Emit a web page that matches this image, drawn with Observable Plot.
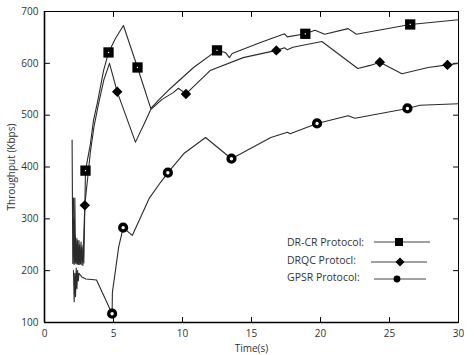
<!DOCTYPE html>
<html><head><meta charset="utf-8">
<script src="https://cdn.jsdelivr.net/npm/d3@7"></script>
<script src="https://cdn.jsdelivr.net/npm/@observablehq/plot@0.6"></script>
<style>
body{margin:0;background:#fff;}
#wrap{position:relative;width:474px;height:355px;}
#wrap svg{display:block;}
#legend{position:absolute;left:0;top:0;pointer-events:none;}
</style></head><body><div id="wrap"></div>
<script>
// ---- data ----
const xTicks = [0, 5, 10, 15, 20, 25, 30];
const yTicks = [100, 200, 300, 400, 500, 600, 700];

const drcrX = [2.0, 2.05, 2.1, 2.15, 2.2, 2.25, 2.35, 2.4, 2.5, 2.55, 2.65, 2.7, 2.8, 2.85, 2.97, 3.33, 3.55, 3.84, 4.28, 4.64, 5.14, 5.72, 6.74, 7.7, 8.3, 9.1, 10.8, 12.5, 13.1, 13.4, 13.6, 15.65, 17.4, 17.6, 18.9, 19.6, 20.3, 22.0, 22.6, 26.5, 30.0];
const drcrY = [452, 214, 300, 212, 340, 215, 262, 213, 258, 212, 255, 212, 250, 215, 393, 445, 490, 525, 586, 621, 648, 673, 592, 513, 530, 551, 592, 625, 621, 611, 619, 640, 657, 651, 657, 664, 656, 667, 656, 675, 684];
const drcrMarkX = [2.97, 4.64, 6.74, 12.5, 18.9, 26.5];
const drcrMarkY = [393, 621, 592, 625, 657, 675];

const drqcX = [2.1, 2.15, 2.25, 2.3, 2.4, 2.45, 2.55, 2.6, 2.7, 2.78, 2.92, 3.33, 3.6, 3.9, 4.3, 4.71, 5.27, 6.59, 7.2, 7.7, 8.5, 9.35, 9.7, 10.25, 12.0, 14.4, 16.8, 17.4, 17.6, 18.0, 20.1, 22.7, 23.6, 24.3, 25.9, 27.8, 29.2, 30.0];
const drqcY = [340, 215, 265, 213, 258, 212, 250, 213, 245, 210, 326, 430, 480, 520, 568, 600, 545, 448, 482, 511, 530, 544, 552, 541, 586, 611, 625, 630, 626, 631, 642, 590, 596, 602, 580, 592, 597, 600];
const drqcMarkX = [2.92, 5.27, 10.25, 16.8, 24.3, 29.2];
const drqcMarkY = [326, 545, 541, 625, 602, 597];

const gpsrX = [2.1, 2.15, 2.2, 2.25, 2.3, 2.35, 2.4, 2.45, 2.5, 2.7, 3.0, 3.4, 3.77, 4.9, 4.92, 5.14, 5.37, 5.7, 6.36, 7.0, 7.6, 8.4, 8.94, 10.1, 11.67, 13.55, 16.4, 17.6, 17.8, 19.75, 22.0, 22.5, 26.3, 27.2, 30.0];
const gpsrY = [200, 140, 195, 150, 205, 165, 200, 180, 195, 188, 184, 183, 182, 117, 158, 200, 245, 283, 268, 305, 340, 370, 389, 426, 457, 416, 457, 467, 464, 484, 499, 494, 513, 519, 522];
const gpsrMarkX = [4.9, 5.7, 8.94, 13.55, 19.75, 26.3];
const gpsrMarkY = [117, 283, 389, 416, 484, 513];

const legendLabels = ["DR-CR Protocol:", "DRQC Protocl:", "GPSR Protocol:"];

// ---- build tables ----
const toRows = (xs, ys) => xs.map((x, i) => ({x, y: ys[i]}));
const drcr = toRows(drcrX, drcrY), drqc = toRows(drqcX, drqcY), gpsr = toRows(gpsrX, gpsrY);
const drcrM = toRows(drcrMarkX, drcrMarkY), drqcM = toRows(drqcMarkX, drqcMarkY), gpsrM = toRows(gpsrMarkX, gpsrMarkY);

const lineStyle = {x: "x", y: "y", stroke: "#2b2b2b", strokeWidth: 1.1};
const font = "'Open Sans', sans-serif";
const [x0, x1] = [xTicks[0], xTicks[xTicks.length - 1]];
const [y0, y1] = [yTicks[0], yTicks[yTicks.length - 1]];

// inward tick shape
const tickShape = {draw(context, l) { context.moveTo(0, 0); context.lineTo(0, -l); }};
const tickOpts = {length: 5, anchor: "start", shape: tickShape, stroke: "#000", strokeWidth: 1};

const chart = Plot.plot({
  width: 474, height: 355,
  marginLeft: 44, marginRight: 16, marginTop: 11, marginBottom: 33,
  style: {fontFamily: font, fontSize: "10px", color: "#333", background: "#fff"},
  x: {domain: [x0, x1]},
  y: {domain: [y0, y1]},
  marks: [
    Plot.frame({stroke: "#000", strokeWidth: 1}),
    Plot.axisX({ticks: xTicks, tickSize: 0, tickPadding: 7, label: "Time(s)", labelAnchor: "center", labelArrow: "none", labelOffset: 29}),
    Plot.axisY({ticks: yTicks, tickSize: 0, tickPadding: 6, label: "Throughput (Kbps)", labelAnchor: "center", labelArrow: "none", labelOffset: 37}),
    // inward ticks on all four sides
    Plot.vector(xTicks, {x: d => d, y: y0, rotate: 0, ...tickOpts}),
    Plot.vector(xTicks, {x: d => d, y: y1, rotate: 180, ...tickOpts}),
    Plot.vector(yTicks, {y: d => d, x: x0, rotate: 90, ...tickOpts}),
    Plot.vector(yTicks, {y: d => d, x: x1, rotate: -90, ...tickOpts}),
    Plot.ruleY([y0], {stroke: "#000", strokeWidth: 1.6}),
    Plot.ruleX([x0], {stroke: "#000", strokeWidth: 1.6}),
    Plot.line(drcr, lineStyle),
    Plot.line(drqc, lineStyle),
    Plot.line(gpsr, lineStyle),
    Plot.dot(drcrM, {x: "x", y: "y", symbol: "square", r: 5.8, fill: "#000"}),
    Plot.dot(drcrM, {x: "x", y: "y", symbol: "square", r: 0.7, fill: "#fff"}),
    Plot.dot(drqcM, {x: "x", y: "y", symbol: "diamond2", r: 4.7, fill: "#000"}),
    Plot.dot(gpsrM, {x: "x", y: "y", r: 3.4, fill: "#fff", stroke: "#000", strokeWidth: 3.4})
  ]
});

const wrap = document.getElementById("wrap");
wrap.appendChild(chart);

// ---- legend overlay ----
const leg = d3.select(wrap).append("svg").attr("id", "legend").attr("width", 474).attr("height", 355);
const legRows = [
  {ty: 242, ly: 242, x1: 374, x2: 430, mx: 399, sym: "square"},
  {ty: 260, ly: 262, x1: 371, x2: 427, mx: 400, sym: "diamond"},
  {ty: 277, ly: 279, x1: 374, x2: 426, mx: 397, sym: "circle"}
];
legRows.forEach((r, i) => {
  leg.append("text").attr("x", 287).attr("y", r.ty).attr("dy", "0.35em")
    .attr("font-family", font).attr("font-size", 10.5).attr("fill", "#333").text(legendLabels[i]);
  leg.append("line").attr("x1", r.x1).attr("x2", r.x2).attr("y1", r.ly).attr("y2", r.ly)
    .attr("stroke", "#444").attr("stroke-width", 1.1);
  const sym = r.sym === "square" ? d3.symbolSquare : r.sym === "diamond" ? d3.symbolDiamond2 : d3.symbolCircle;
  const size = r.sym === "square" ? 64 : r.sym === "diamond" ? 52 : 36;
  leg.append("path").attr("transform", `translate(${r.mx},${r.ly})`).attr("d", d3.symbol(sym, size)()).attr("fill", "#000");
});
</script>
</body></html>
